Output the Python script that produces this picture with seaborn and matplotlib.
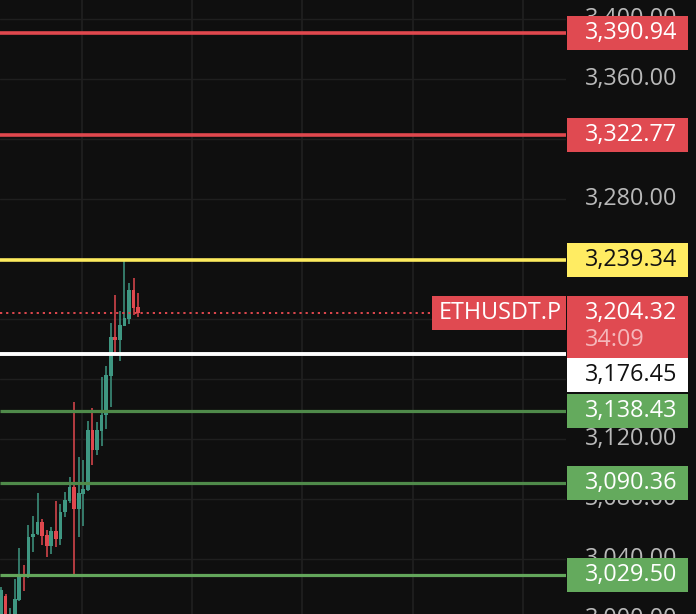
import matplotlib
matplotlib.use("Agg")
import numpy as np
import pandas as pd
import seaborn as sns
import matplotlib.pyplot as plt
from matplotlib.transforms import blended_transform_factory
from matplotlib.patches import Rectangle

# ---------------- data ----------------
opens = [2999, 3015.3, 2998, 3001, 3012.7, 3029.8, 3027.8, 3054.4, 3056.7, 3064.7,
         3056, 3048.9, 3058.7, 3053.3, 3071.3, 3078.7, 3088, 3073.3, 3083.3, 3086,
         3126, 3112.7, 3125.3, 3136, 3162, 3188, 3186, 3195.3, 3200, 3219.3, 3208]
highs = [3021, 3016.7, 3007, 3026.4, 3047.3, 3036, 3062.7, 3068.7, 3084, 3066.7,
         3059.3, 3061.3, 3078.7, 3076.7, 3084.7, 3094.7, 3144.7, 3108, 3106, 3132,
         3140.7, 3131.3, 3161.3, 3168.7, 3197.3, 3216, 3205.3, 3238.7, 3224, 3227.3, 3217.3]
lows = [2995, 2994, 2994, 2998, 3012, 3018.7, 3027, 3044.9, 3056, 3049.3,
        3041.3, 3043.3, 3048.2, 3049.3, 3068.2, 3077, 3029.8, 3054.7, 3062, 3085.3,
        3102.7, 3109.3, 3115.3, 3126.7, 3141.3, 3176.7, 3172, 3195.3, 3196.7, 3202.7, 3201.3]
closes = [3019, 2998, 3002, 3013.3, 3028.2, 3027.8, 3054.9, 3056.7, 3064.7, 3055.6,
          3048.9, 3058.7, 3053.3, 3071.3, 3079.3, 3088, 3073.3, 3084, 3086.7, 3126,
          3112.7, 3126, 3136, 3162.7, 3188, 3186, 3196, 3200.7, 3219.3, 3207.3, 3204.32]

level_prices = [3390.94, 3322.77, 3239.34, 3176.45, 3138.43, 3090.36, 3029.50]
level_line_colors = ["#e0484e", "#e0484e", "#fdeb5e", "#ffffff", "#4f8a4a", "#4f8a4a", "#63a65b"]
level_box_colors = ["#e04a51", "#e04a51", "#ffec62", "#ffffff", "#64aa5d", "#64aa5d", "#64aa5d"]
level_text_colors = ["#ffffff", "#ffffff", "#111111", "#111111", "#ffffff", "#ffffff", "#ffffff"]

last_price = 3204.32
symbol = "ETHUSDT.P"
countdown = "34:09"
tick_values = list(range(3000, 3401, 40))

# ---------------- style ----------------
bg = "#0f0f0f"
grid_c = "#1f1f1f"
up_c = "#3f9782"
down_c = "#e0484e"
tick_c = "#b9b9b9"

sns.set_theme(style="dark", rc={"axes.facecolor": bg, "figure.facecolor": bg})
plt.rcParams["font.family"] = ["Open Sans", "DejaVu Sans"]
plt.rcParams["lines.scale_dashes"] = False

W, H = 696, 614
fig = plt.figure(figsize=(W / 100, H / 100), dpi=100)
fig.patch.set_facecolor(bg)
plot_w = 566
ax = fig.add_axes([0, 0, plot_w / W, 1])
ax.set_facecolor(bg)
for s in ax.spines.values():
    s.set_visible(False)

ymin, ymax = 3003.33, 3412.67
ppu = H / (ymax - ymin)          # pixels per price unit
bar_px = 4.57
x0_px = 1.0
ax.set_xlim((0 - x0_px) / bar_px, (plot_w - x0_px) / bar_px)
ax.set_ylim(ymin, ymax)
ax.set_xticks([])
ax.set_yticks([])

# grid
for v in tick_values:
    ax.axhline(v, color=grid_c, lw=1.0, zorder=0)
for gx in [17.72, 41.85, 65.95, 90.05, 114.15]:
    ax.axvline(gx, color=grid_c, lw=1.3, zorder=0)

# candles
df = pd.DataFrame({"open": opens, "high": highs, "low": lows, "close": closes})
df["idx"] = np.arange(len(df))
df["up"] = df["close"] >= df["open"]
colors = np.where(df["up"], up_c, down_c)
ax.vlines(df["idx"], df["low"], df["high"], colors=colors, lw=1.1, zorder=2)
body_bottom = np.minimum(df["open"], df["close"])
body_h = np.maximum(np.abs(df["close"] - df["open"]), 0.8)
ax.bar(df["idx"], body_h, bottom=body_bottom, width=0.8, color=colors,
       linewidth=0, zorder=2)

# level lines
lw_map = [2.6, 2.6, 2.6, 2.8, 2.3, 2.3, 2.3]
for p, c, lw in zip(level_prices, level_line_colors, lw_map):
    ax.axhline(p, color=c, lw=lw, zorder=3, solid_capstyle="butt")

# last-price dotted line
ax.plot([ax.get_xlim()[0], (432 - x0_px) / bar_px], [last_price, last_price],
        color=down_c, lw=1.4, ls=(0, (1.6, 2.8)), zorder=3)

# ---------------- right price scale ----------------
trans = blended_transform_factory(fig.dpi_scale_trans, ax.transData)
fs = 16.8
text_x = 585 / 100

for v in tick_values:
    ax.text(text_x, v, f"{v:,.2f}", transform=trans, ha="left", va="center",
            color=tick_c, fontsize=fs, zorder=4, clip_on=False)

def py(price):
    return (ymax - price) * ppu

def pr(pix):
    return ymax - pix / ppu

# build label boxes (pixel space, y from top) and resolve overlaps
labels = []
for p, bc, tc in zip(level_prices, level_box_colors, level_text_colors):
    labels.append({"price": p, "top": py(p) - 17, "h": 34, "bc": bc, "tc": tc, "kind": "level"})
labels.append({"price": last_price, "top": py(last_price) - 16.5, "h": 62,
               "bc": "#e04a51", "tc": "#ffffff", "kind": "last"})
labels.sort(key=lambda d: d["top"])
prev_bottom = -1e9
for lab in labels:
    if lab["top"] < prev_bottom:
        lab["top"] = prev_bottom
    prev_bottom = lab["top"] + lab["h"]

box_x0, box_x1 = 567 / 100, 688 / 100
for lab in labels:
    top = lab["top"]
    bottom = top + lab["h"]
    ax.add_patch(Rectangle((box_x0, pr(bottom)), box_x1 - box_x0, pr(top) - pr(bottom),
                           transform=trans, facecolor=lab["bc"], edgecolor="none",
                           zorder=5, clip_on=False))
    if lab["kind"] == "level":
        ax.text(text_x, pr(top + 17), f"{lab['price']:,.2f}", transform=trans,
                ha="left", va="center", color=lab["tc"], fontsize=fs, zorder=6,
                clip_on=False)
    else:
        ax.text(text_x, pr(top + 16.5), f"{lab['price']:,.2f}", transform=trans,
                ha="left", va="center", color=lab["tc"], fontsize=fs, zorder=6,
                clip_on=False)
        ax.text(text_x, pr(top + 44), countdown, transform=trans,
                ha="left", va="center", color="#f5b7ba", fontsize=fs, zorder=6,
                clip_on=False)

# symbol tag
ytop = py(last_price) - 16.5
ax.add_patch(Rectangle((432 / 100, pr(ytop + 34)), (566 - 432) / 100, pr(ytop) - pr(ytop + 34),
                       transform=trans, facecolor="#e04a51", edgecolor="none",
                       zorder=5, clip_on=False))
ax.text(500 / 100, last_price, symbol, transform=trans, ha="center", va="center",
        color="#ffffff", fontsize=fs, zorder=6, clip_on=False)

fig.savefig("out.png", dpi=100, facecolor=bg)
